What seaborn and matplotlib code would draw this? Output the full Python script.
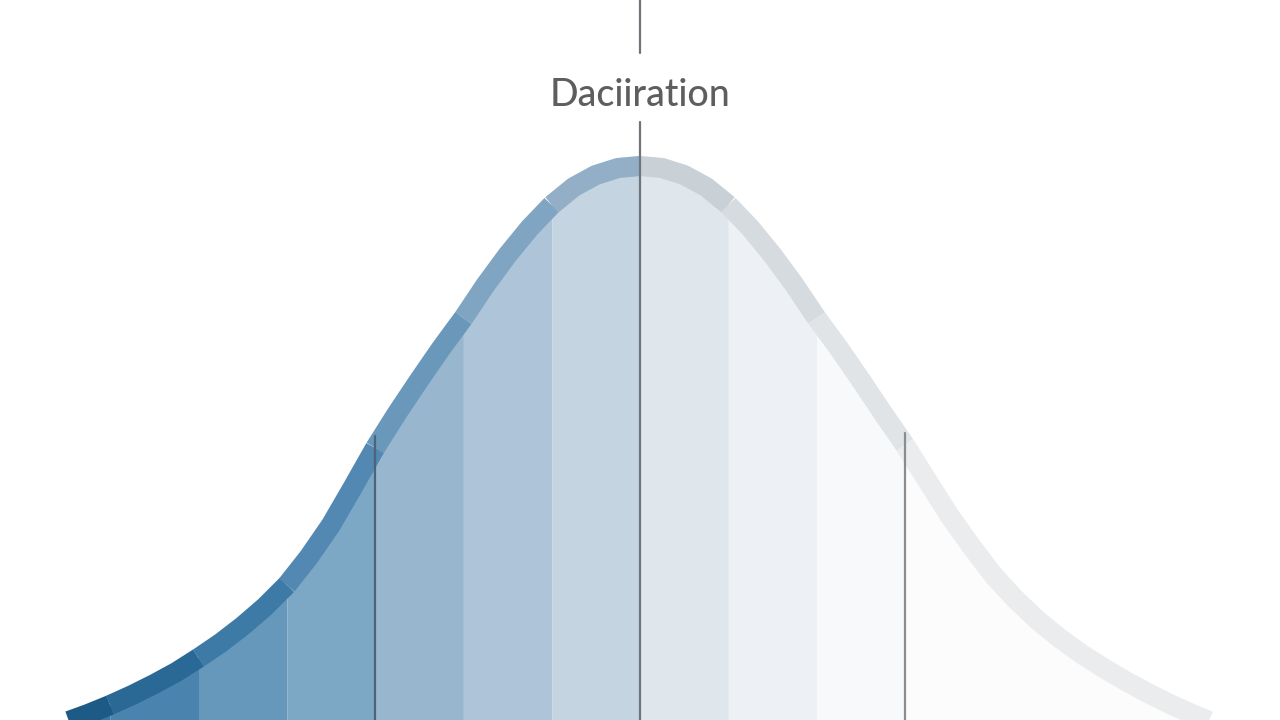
import numpy as np
import pandas as pd
import matplotlib
matplotlib.use("Agg")
import matplotlib.pyplot as plt
import seaborn as sns

# ---- data ----
x_pos = [-7, -6.75, -6.5, -6.25, -6, -5.75, -5.5, -5.25, -5, -4.75, -4.5, -4.25, -4,
         -3.75, -3.5, -3.25, -3, -2.75, -2.5, -2.25, -2, -1.75, -1.5, -1.25, -1, -0.75,
         -0.5, -0.25, 0, 0.25, 0.5, 0.75, 1, 1.25, 1.5, 1.75, 2, 2.25, 2.5, 2.75, 3,
         3.25, 3.5, 3.75, 4, 4.25, 4.5, 4.75, 5, 5.25, 5.5, 5.75, 6, 6.25, 6.5, 6.75, 7]
density = [0.25, 0.31, 0.38, 0.46, 0.55, 0.65, 0.76, 0.88, 1.02, 1.17, 1.34, 1.53, 1.75,
           2.03, 2.35, 2.73, 3.12, 3.47, 3.80, 4.12, 4.42, 4.75, 5.05, 5.32, 5.55, 5.73,
           5.85, 5.92, 5.94, 5.92, 5.85, 5.73, 5.55, 5.32, 5.05, 4.75, 4.42, 4.12, 3.80, 3.47, 3.15,
           2.80, 2.45, 2.14, 1.85, 1.61, 1.40, 1.22, 1.06, 0.92, 0.79, 0.67, 0.56, 0.46, 0.37, 0.29, 0.22]
band_edges = [-7, -6, -5, -4, -3, -2, -1, 0, 1, 2, 3, 7]
band_fill = ["#3d77a3", "#4a84ae", "#6598bb", "#7ca8c6", "#98b7cf", "#aec5d9", "#c5d4e1",
             "#dfe6ec", "#edf1f6", "#f7f9fb", "#fcfcfd"]
stroke_cols = ["#1d5a86", "#2a6996", "#3d7aa6", "#5288b1", "#6a98bb", "#7fa5c2", "#92afc7",
               "#c9d0d6", "#d6dbe0", "#e1e4e7", "#eaeced"]
marker_x = [-3, 0, 3]
label_text = "Daciiration"

sns.set_theme(style="white")
plt.rcParams["font.family"] = ["Lato", "DejaVu Sans"]

fig = plt.figure(figsize=(12.8, 7.2), dpi=100)
ax = fig.add_axes([0, 0, 1, 1])
ax.set_xlim(-7.248, 7.248)
ax.set_ylim(0.4, 7.6)
ax.axis("off")

xs = np.array(x_pos, dtype=float)
ys = np.array(density, dtype=float)

# filled bands
for i in range(len(band_edges) - 1):
    lo, hi = band_edges[i], band_edges[i + 1]
    m = (xs >= lo) & (xs <= hi)
    ax.fill_between(xs[m], 0, ys[m], color=band_fill[i], linewidth=0, zorder=1)

# thick outline, one colour per band (seaborn lines)
rows = []
for i in range(len(band_edges) - 1):
    lo, hi = band_edges[i], band_edges[i + 1]
    m = (xs >= lo) & (xs <= hi)
    for xv, yv in zip(xs[m], ys[m]):
        rows.append({"x": xv, "y": yv, "seg": f"s{i}"})
df = pd.DataFrame(rows)
pal = {f"s{i}": c for i, c in enumerate(stroke_cols)}
sns.lineplot(data=df, x="x", y="y", hue="seg", palette=pal, estimator=None, sort=False,
             linewidth=14.5, legend=False, ax=ax, zorder=3)
for ln in ax.get_lines():
    ln.set_solid_capstyle("butt")
    ln.set_solid_joinstyle("round")

# vertical reference lines
dens_at = dict(zip(x_pos, density))
side_cols = {-3: "#4e6377", 3: "#8c8c8c"}
for mx in marker_x:
    if mx == 0:
        continue
    ax.plot([mx, mx], [0, dens_at[mx] + 0.12], color=side_cols[mx], lw=1.6, zorder=4)

label_y = 6.68
ax.plot([0, 0], [0, label_y - 0.30], color="#6f757c", lw=1.6, zorder=4)
ax.plot([0, 0], [label_y + 0.39, 8], color="#6f757c", lw=1.6, zorder=4)
ax.text(0, label_y - 0.04, label_text, ha="center", va="center", fontsize=27, fontweight="medium",
        color="#5e5e5e", zorder=5)

fig.savefig("out.png", dpi=100, facecolor="white")
